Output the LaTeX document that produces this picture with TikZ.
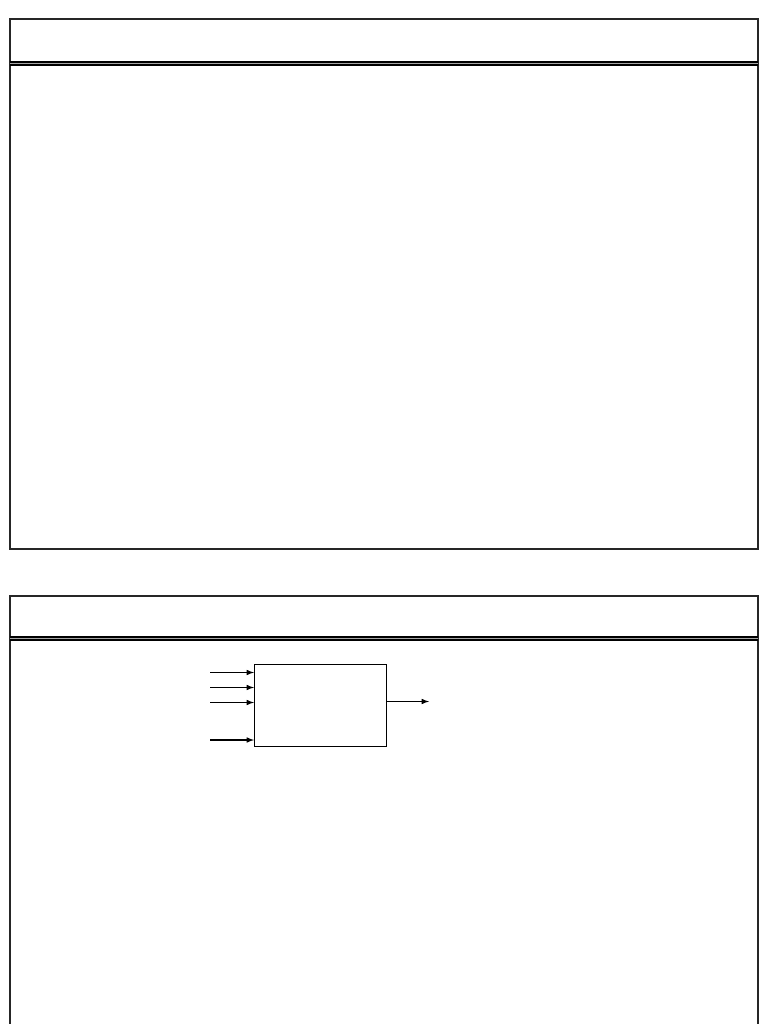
\documentclass[tikz,border=0pt]{standalone}
\usetikzlibrary{arrows,positioning}

\begin{document}
\begin{tikzpicture}[
                  x = 0.025cm,
                  y = -0.025cm,
     slideframe/.style = {draw=black!85, line width=0.8pt},
     headrule/.style = {draw=black, line width=1.6pt, double=gray!70, double distance=0.2pt},
       blockbox/.style = {draw, line width=0.7pt, minimum width=3.3cm, minimum height=2.05cm, inner sep=0pt},
       signal/.style = {draw, line width=0.8pt, -latex},
                   ]
\useasboundingbox (0,0) rectangle (768,1024);
\fill[white] (0,0) rectangle (768,1024);
% upper slide
\draw[slideframe] (10,19) rectangle (758,549);
\draw[headrule] (10,63.5) -- (758,63.5);
% lower slide, runs off the page
\draw[slideframe] (10,1030) -- (10,596) -- (758,596) -- (758,1030);
\draw[headrule] (10,638.5) -- (758,638.5);
% block with inputs and output
\node[blockbox, anchor=north west] (blk) at (254,663.5) {};
\coordinate (in1) at (210,672.5);
\coordinate (in2) at (210,687.5);
\coordinate (in3) at (210,702.5);
\coordinate (in4) at (210,740);
\coordinate (out) at (429,701.5);
\foreach \i in {1,...,4}
    \draw[signal] (in\i) -- (in\i -| blk.west);
\draw[signal] (blk.east |- out) -- (out);
\end{tikzpicture}
\end{document}
